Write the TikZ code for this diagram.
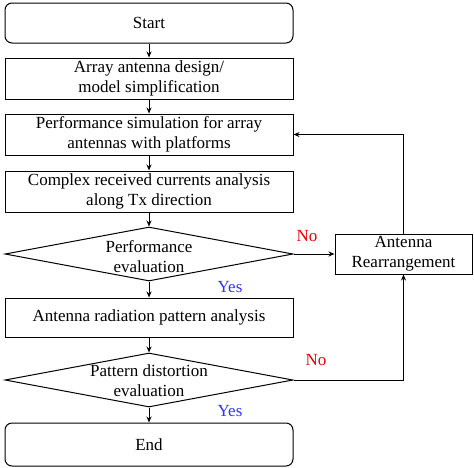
\documentclass[tikz,border=0pt]{standalone}
\usepackage{fontspec}
\setmainfont{Liberation Serif}
\usetikzlibrary{shapes.geometric,arrows.meta}
\begin{document}
\begin{tikzpicture}[x=1pt,y=-1pt,line width=1pt,>={Stealth[length=6pt,width=5pt]},
		font=\fontsize{17}{20}\selectfont,
		stepbox/.style={draw,rectangle,minimum width=288pt,minimum height=41pt,align=center,inner sep=0pt},
		endbox/.style={stepbox,rounded corners=7pt},
		decision/.style={draw,diamond,minimum width=288pt,minimum height=54pt,inner sep=0pt},
		nolabel/.style={text=red!90!black},
		yeslabel/.style={text=blue!80!white}]
			\useasboundingbox (0,0) rectangle (474,467);
			\node[endbox,minimum height=40pt] (start) at (149,23) {Start};
			\node[stepbox] (design) at (149,78.5) {Array antenna design/\\model simplification};
			\node[stepbox] (sim) at (149,134.5) {Performance simulation for array\\antennas with platforms};
			\node[stepbox] (curr) at (149,191.5) {Complex received currents analysis\\along Tx direction};
			\node[decision] (evalA) at (149,254) {};
			\node[align=center] (evalAtext) at (149,257) {Performance\\evaluation};
			\node[stepbox,minimum width=137pt,minimum height=40pt] (rearr) at (403.5,254) {Antenna\\Rearrangement};
			\node[stepbox,minimum height=39pt] (radpat) at (149,317.5) {Antenna radiation pattern analysis};
			\node[decision] (evalB) at (149,380) {};
			\node[align=center] (evalBtext) at (149,381) {Pattern distortion\\evaluation};
			\node[endbox,minimum height=43pt] (end) at (149,444.5) {End};
			\node[nolabel] (noA) at (307,236) {No};
			\node[yeslabel] (yesA) at (230,287) {Yes};
			\node[nolabel] (noB) at (316,360) {No};
			\node[yeslabel] (yesB) at (230,411) {Yes};
			\draw[->] (start) to (design);
			\draw[->] (design) to (sim);
			\draw[->] (sim) to (curr);
			\draw[->] (curr) to (evalA);
			\draw[->] (evalA) to (radpat);
			\draw[->] (radpat) to (evalB);
			\draw[->] (evalB) to (end);
			\draw[->] (evalA.east) to (rearr.west);
			\draw[->] (rearr.north) |- (sim.east);
			\draw[->] (evalB.east) -| (rearr.south);
		\end{tikzpicture}
\end{document}
